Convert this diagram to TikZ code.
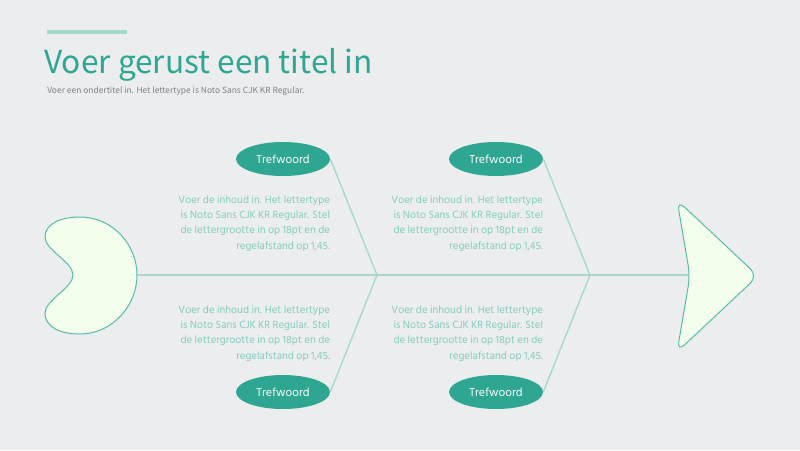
\documentclass[tikz,border=0pt]{standalone}
\usepackage{fontspec}
\setmainfont{Hind Siliguri}
\newfontfamily\krfont{Noto Sans CJK KR}
\usetikzlibrary{positioning, shapes.geometric}
\definecolor{bgcol}{HTML}{ECEDEF}
\definecolor{fishteal}{HTML}{2EA692}
\definecolor{linecol}{HTML}{A6D8CE}
\definecolor{bodycol}{HTML}{82CCBC}
\definecolor{subcol}{HTML}{808080}
\definecolor{shapefill}{HTML}{F3FEEC}
\definecolor{shapeline}{HTML}{55BBA7}
\tikzstyle{kword} = [%
  ellipse,
  fill=fishteal,
  minimum width=2.35cm,
  minimum height=0.85cm,
  inner sep=0pt,
  text=white,
  font=\fontsize{8.5}{10}\selectfont
]
\tikzstyle{btext} = [%
  align=right,
  inner sep=0pt,
  text=bodycol,
  font=\fontsize{7.65}{10.9}\selectfont
]
\begin{document}
\begin{tikzpicture}[%
  x=0.025cm, y=-0.025cm,
  bone/.style={draw=linecol, line width=1pt},
  spine/.style={draw=linecol, line width=1.4pt},
  fin/.style={draw=shapeline, fill=shapefill, line width=0.7pt}
]

  % Canvas
  \fill[bgcol] (0,0) rectangle (800,450);
  \useasboundingbox (0,0) rectangle (800,450);

  % Heading
  \draw[linecol, line width=2.2pt] (47,32) -- (127,32);
  \node[anchor=base west, inner sep=0pt, text=fishteal,
    font=\krfont\fontsize{22.5}{26}\selectfont] (title) at (44,73.5) {Voer gerust een titel in};
  \node[anchor=base west, inner sep=0pt, text=subcol,
    font=\krfont\fontsize{6}{7}\selectfont] (subtitle) at (47,93) {Voer een ondertitel in. Het lettertype is Noto Sans CJK KR Regular.};

  % Tail and head
  \draw[fin] (73,275) .. controls (73,262) and (45,250) .. (45,237)
    .. controls (45,224) and (60,217) .. (80,217)
    .. controls (112,217) and (137,244) .. (137,275)
    .. controls (137,306) and (112,334) .. (80,334)
    .. controls (60,334) and (45,327) .. (45,313)
    .. controls (45,300) and (73,288) .. cycle;
  \draw[fin, rounded corners=7.5pt] (677,200) -- (758,276) -- (677,352) -- (690,276) -- cycle;
  \coordinate (tail) at (137,275);
  \coordinate (head) at (690,275);

  % Keywords
  \coordinate (J1) at (377,275);
  \coordinate (J2) at (590,275);
  \node[kword] (K1) at (283,159) {Trefwoord};
  \node[kword] (K2) at (496,159) {Trefwoord};
  \node[kword] (K3) at (283,392) {Trefwoord};
  \node[kword] (K4) at (496,392) {Trefwoord};

  % Bones
  \draw[spine] (tail) -- (head);
  \draw[bone] (K1.east) -- (J1);
  \draw[bone] (K2.east) -- (J2);
  \draw[bone] (K3.east) -- (J1);
  \draw[bone] (K4.east) -- (J2);

  % Body texts
  \node[btext, below left=0.47cm and 0cm of K1.south -| K1.east] (T1) {Voer de inhoud in. Het lettertype\\is Noto Sans CJK KR Regular. Stel\\de lettergrootte in op 18pt en de\\regelafstand op 1,45.};
  \node[btext, below left=0.47cm and 0cm of K2.south -| K2.east] (T2) {Voer de inhoud in. Het lettertype\\is Noto Sans CJK KR Regular. Stel\\de lettergrootte in op 18pt en de\\regelafstand op 1,45.};
  \node[btext, above left=0.33cm and 0cm of K3.north -| K3.east] (T3) {Voer de inhoud in. Het lettertype\\is Noto Sans CJK KR Regular. Stel\\de lettergrootte in op 18pt en de\\regelafstand op 1,45.};
  \node[btext, above left=0.33cm and 0cm of K4.north -| K4.east] (T4) {Voer de inhoud in. Het lettertype\\is Noto Sans CJK KR Regular. Stel\\de lettergrootte in op 18pt en de\\regelafstand op 1,45.};

\end{tikzpicture}
\end{document}
